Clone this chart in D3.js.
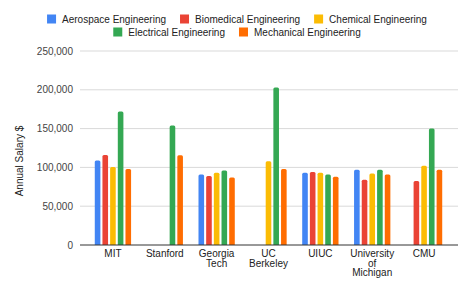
<!DOCTYPE html>
<html>
<head>
<meta charset="utf-8">
<script src="https://cdn.jsdelivr.net/npm/d3@7"></script>
<style>
  body { margin: 0; background: #fff; }
  text { font-family: "Liberation Sans", Arial, sans-serif; }
</style>
</head>
<body>
<div id="graph"></div>
<script>
// chart data
var schools = ["MIT", "Stanford", "Georgia Tech", "UC Berkeley", "UIUC", "University of Michigan", "CMU"]
var schoolLines = [["MIT"], ["Stanford"], ["Georgia", "Tech"], ["UC", "Berkeley"], ["UIUC"], ["University", "of", "Michigan"], ["CMU"]]
var series = ["Aerospace Engineering", "Biomedical Engineering", "Chemical Engineering", "Electrical Engineering", "Mechanical Engineering"]
var colors = ["#4285f4", "#ea4335", "#fbbc04", "#34a853", "#ff6d01"]

var aerospace  = [109000, null, 91000, null, 93000, 97000, null]
var biomedical = [116000, null, 89000, null, 94000, 84000, 82500]
var chemical   = [100500, null, 93000, 108000, 93000, 92000, 102000]
var electrical = [172000, 154000, 96000, 203000, 91000, 97000, 150000]
var mechanical = [98000, 115500, 87000, 98000, 88000, 91000, 97000]
var yTicks = [0, 50000, 100000, 150000, 200000, 250000]

var values = [aerospace, biomedical, chemical, electrical, mechanical]

var W = 474, H = 293
var svg = d3.select('#graph').append('svg').attr('width', W).attr('height', H)

var y = d3.scaleLinear().domain([0, 250000]).range([245, 51])
var x0 = d3.scaleBand().domain(schools).range([87, 450]).paddingInner(0.3).paddingOuter(0.15)
var x1 = d3.scaleBand().domain(series).range([0, x0.bandwidth()]).paddingInner(0.27)

// gridlines
svg.append('g').selectAll('line').data(yTicks.filter(d => d > 0)).join('line')
  .attr('x1', 80).attr('x2', 458)
  .attr('y1', d => y(d)).attr('y2', d => y(d))
  .attr('stroke', '#d9d9d9').attr('stroke-width', 1)

// y tick labels
svg.append('g').selectAll('text').data(yTicks).join('text')
  .attr('x', 73).attr('y', d => y(d)).attr('dy', '0.35em')
  .attr('text-anchor', 'end').attr('font-size', 10).attr('fill', '#444')
  .text(d => d3.format(',')(d))

// y axis title
svg.append('text')
  .attr('transform', 'translate(23,161) rotate(-90)')
  .attr('text-anchor', 'middle').attr('font-size', 10).attr('fill', '#222')
  .text('Annual Salary $')

// bars
var barData = []
schools.forEach((s, i) => {
  series.forEach((k, j) => {
    if (values[j][i] != null) barData.push({ school: s, key: k, v: values[j][i], c: colors[j] })
  })
})

function barPath(d) {
  var bx = x0(d.school) + x1(d.key), bw = x1.bandwidth()
  var top = y(d.v), bot = y(0), r = 1.5
  return 'M' + bx + ',' + bot + 'V' + (top + r) +
    'Q' + bx + ',' + top + ' ' + (bx + r) + ',' + top +
    'H' + (bx + bw - r) +
    'Q' + (bx + bw) + ',' + top + ' ' + (bx + bw) + ',' + (top + r) +
    'V' + bot + 'Z'
}

svg.append('g').selectAll('path').data(barData).join('path')
  .attr('d', barPath)
  .attr('fill', d => d.c)

// baseline
svg.append('line')
  .attr('x1', 80).attr('x2', 458).attr('y1', y(0)).attr('y2', y(0))
  .attr('stroke', '#333').attr('stroke-width', 1)

// x labels
var xl = svg.append('g').selectAll('text').data(schools).join('text')
  .attr('text-anchor', 'middle').attr('font-size', 10).attr('fill', '#222')
  .attr('x', d => x0(d) + x0.bandwidth() / 2)
  .attr('y', 257)
xl.selectAll('tspan').data((d, i) => schoolLines[i]).join('tspan')
  .attr('x', function() { return this.parentNode.getAttribute('x') })
  .attr('dy', (d, i) => i == 0 ? 0 : 9.7)
  .text(d => d)

// legend, two centred rows
var rows = [[0, 1, 2], [3, 4]]
var rowY = [19, 32]
rows.forEach((row, ri) => {
  var g = svg.append('g')
  var cx = 0
  row.forEach(j => {
    var item = g.append('g').attr('transform', 'translate(' + cx + ',0)')
    item.append('rect').attr('x', 0).attr('y', rowY[ri] - 4.5).attr('width', 9).attr('height', 9).attr('fill', colors[j])
    var t = item.append('text').attr('x', 15).attr('y', rowY[ri]).attr('dy', '0.35em')
      .attr('font-size', 10).attr('fill', '#222').text(series[j])
    cx += 15 + t.node().getComputedTextLength() + 14
  })
  var total = cx - 14
  g.attr('transform', 'translate(' + (W / 2 - total / 2) + ',0)')
})
</script>
</body>
</html>
